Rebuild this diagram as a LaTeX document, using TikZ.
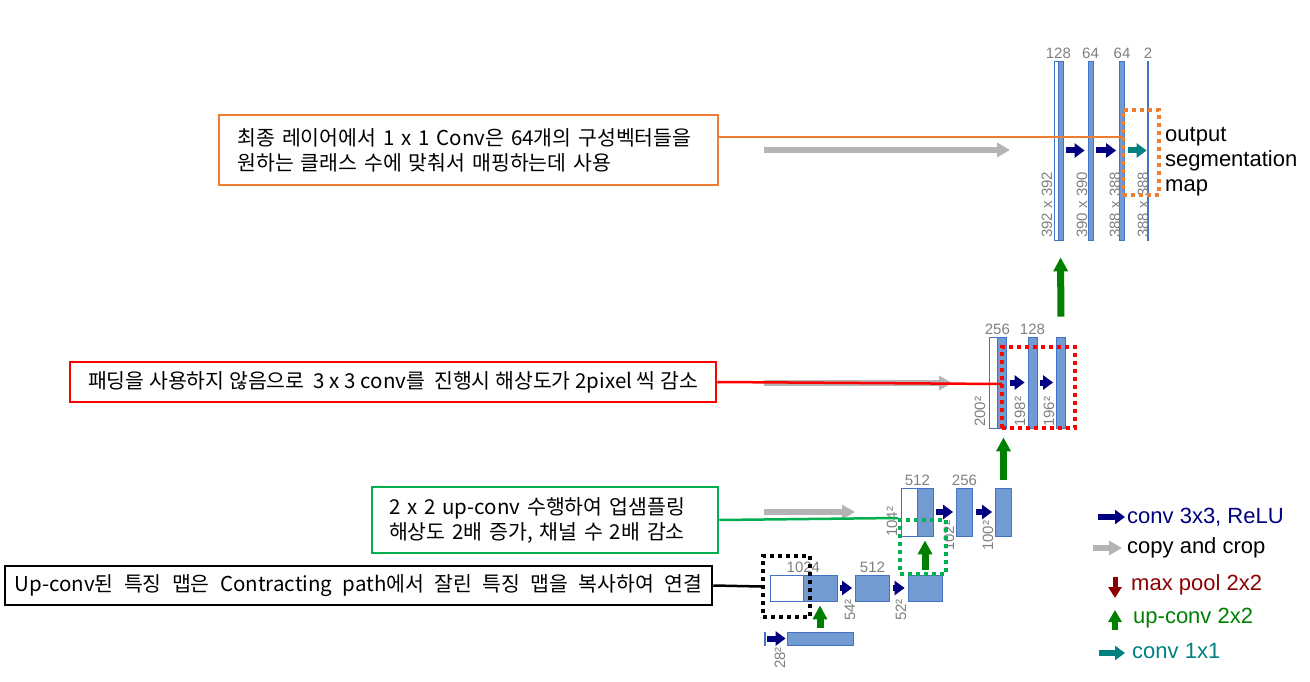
\documentclass[tikz,border=0pt]{standalone}
\usepackage{fontspec}
\setmainfont{Liberation Sans}
\newfontfamily\kr{Noto Sans CJK KR}
\usepackage{xcolor}
\usetikzlibrary{arrows.meta, positioning}

\definecolor{barblue}{RGB}{114,155,210}
\definecolor{baredge}{RGB}{68,114,196}
\definecolor{convnavy}{RGB}{0,0,128}
\definecolor{copygray}{RGB}{180,180,180}
\definecolor{pooldark}{RGB}{139,0,0}
\definecolor{upgreen}{RGB}{0,128,0}
\definecolor{oneteal}{RGB}{0,128,128}
\definecolor{noteorange}{RGB}{237,125,49}
\definecolor{notegreen}{RGB}{0,176,80}
\definecolor{labelgray}{RGB}{128,128,128}

\begin{document}
\begin{tikzpicture}[x = 1pt, y = -1pt,
		fmap/.style = {draw = baredge, fill = barblue, line width = 0.8pt, inner sep = 0pt},
		cmap/.style = {draw = baredge, fill = white, line width = 0.8pt, inner sep = 0pt},
		chan/.style = {text = labelgray, font = \fontsize{15}{15}\selectfont, inner sep = 1pt},
		size/.style = {chan, rotate = 90, anchor = west},
		conv/.style = {-{Triangle[length = 10pt, width = 14pt]}, line width = 6pt, convnavy, shorten < = 3pt, shorten > = 3pt},
		onebyone/.style = {conv, oneteal},
		copy/.style = {-{Triangle[length = 13pt, width = 14pt]}, line width = 6pt, copygray},
		upconv/.style = {-{Triangle[length = 14pt, width = 14pt]}, line width = 7pt, upgreen},
		pool/.style = {-{Triangle[length = 11pt, width = 13pt]}, line width = 5pt, pooldark},
		dotbox/.style = {line width = 4pt, dash pattern = on 4pt off 4pt, inner sep = 0pt},
		note/.style = {draw, line width = 2.5pt, inner sep = 0pt, font = \kr\fontsize{20.5}{25}\selectfont},
		key/.style = {anchor = west, inner sep = 0pt, font = \fontsize{22}{25}\selectfont}]

	\useasboundingbox (0,0) rectangle (1310,682);

	\begin{scope}
		\node [cmap, minimum width = 4pt, minimum height = 179pt] (u0) at (1056,150.5) {};
		\foreach \name/\x in {u1/1060.5, u2/1090.5, u3/1122}
		{
			\node [fmap, minimum width = 5pt, minimum height = 179pt] (\name) at (\x,150.5) {};
		}
		\node [fmap, minimum width = 1pt, minimum height = 179pt] (u4) at (1148,150.5) {};

		\node [cmap, minimum width = 8pt, minimum height = 91pt] (m0) at (993,382.5) {};
		\foreach \name/\x in {m1/1002, m2/1032.5, m3/1061}
		{
			\node [fmap, minimum width = 9pt, minimum height = 91pt] (\name) at (\x,382.5) {};
		}

		\node [cmap, minimum width = 16pt, minimum height = 48pt] (l0) at (909,512) {};
		\foreach \name/\x in {l1/925, l2/964.5, l3/1003.5}
		{
			\node [fmap, minimum width = 16pt, minimum height = 48pt] (\name) at (\x,512) {};
		}

		\node [cmap, minimum width = 33pt, minimum height = 26pt] (b0) at (786.5,588) {};
		\foreach \name/\x in {b1/820, b2/872.5, b3/925}
		{
			\node [fmap, minimum width = 34pt, minimum height = 26pt] (\name) at (\x,588) {};
		}

		\node [fmap, minimum width = 1pt, minimum height = 13pt] (d0) at (765,638.5) {};
		\node [fmap, minimum width = 66pt, minimum height = 13pt] (d1) at (820,638.5) {};
	\end{scope}

	\begin{scope}
		\node [chan, above = 1pt of u0.north east] (cu1) {128};
		\node [chan, above = 1pt of u2.north] (cu2) {64};
		\node [chan, above = 1pt of u3.north] (cu3) {64};
		\node [chan, above = 1pt of u4.north] (cu4) {2};
		\node [chan, above = 1pt of m0.north east] (cm1) {256};
		\node [chan, above = 1pt of m2.north] (cm2) {128};
		\node [chan, above = 1pt of l0.north east] (cl1) {512};
		\node [chan, above = 1pt of l2.north] (cl2) {256};
		\node [chan, above = 1pt of b0.north east] (cb1) {1024};
		\node [chan, above = 1pt of b2.north] (cb2) {512};

		\foreach \id/\x/\y/\t in {su0/1047/239/392 x 392, su2/1082/239/390 x 390, su3/1115/239/388 x 388, su4/1143/239/388 x 388,
			sm0/980/428/200², sm2/1020/428/198², sm3/1049/428/196²,
			sl0/892/538/104², sl2/949/552/102², sl3/988/552/100²,
			sb2/850/622/54², sb3/901/622/52², sd0/780/670/28²}
		{
			\node [size] (\id) at (\x,\y) {\t};
		}
	\end{scope}

	\begin{scope}
		\draw [conv] (u1.east) -- (u2.west);
		\draw [conv] (u2.east) -- (u3.west);
		\draw [onebyone, shorten < = 3.5pt, shorten > = 0.5pt] (u3.east) -- (u4.west);
		\draw [conv] (m1.east) -- (m2.west);
		\draw [conv] (m2.east) -- (m3.west);
		\draw [conv] (l1.east) -- (l2.west);
		\draw [conv] (l2.east) -- (l3.west);
		\draw [conv] (b1.east) -- (b2.west);
		\draw [conv] (b2.east) -- (b3.west);
		\draw [conv, shorten < = 1.5pt, shorten > = 1pt] (d0.east) -- (d1.west);

		\draw [upconv, shorten < = 4pt, shorten > = 4pt] (d1.north) -- (b1.south);
		\draw [upconv, shorten < = 5pt, shorten > = 4pt] (b3.north) -- (l1.south);
		\draw [upconv, shorten < = 8pt, shorten > = 9pt] (l3.north) -- (l3.north |- m1.south);
		\draw [upconv, shorten < = 20pt, shorten > = 17pt] (m3.north) -- (u1.south);
	\end{scope}

	\coordinate (cp1a) at (764,150);
	\coordinate (cp1b) at (1010,150);
	\coordinate (cp2a) at (764,383);
	\coordinate (cp2b) at (952,383);
	\coordinate (cp3a) at (764,512);
	\coordinate (cp3b) at (855,512);

	\begin{scope}
		\draw [copy] (cp1a) -- (cp1b);
		\draw [copy] (cp2a) -- (cp2b);
		\draw [copy] (cp3a) -- (cp3b);
	\end{scope}

	\begin{scope}
		\node [note, draw = noteorange, minimum width = 499pt, minimum height = 70pt, text width = 462pt, align = left] (n1) at (468.5,150)
			{최종 레이어에서 1 x 1 Conv은 64개의 구성벡터들을\\원하는 클래스 수에 맞춰서 매핑하는데 사용};
		\node [note, draw = red, minimum width = 646pt, minimum height = 40pt] (n2) at (393,382)
			{패딩을 사용하지 않음으로 \ 3 x 3 conv를 \ 진행시 해상도가 2pixel 씩 감소};
		\node [note, draw = notegreen, minimum width = 346pt, minimum height = 66pt, text width = 312pt, align = left] (n3) at (545,520)
			{2 x 2 up-conv 수행하여 업샘플링\\해상도 2배 증가, 채널 수 2배 감소};
		\node [note, draw = black, minimum width = 707pt, minimum height = 39pt] (n4) at (358.5,585.5)
			{\makebox[688pt][s]{Up-conv된 특징 맵은 Contracting path에서 잘린 특징 맵을 복사하여 연결}};
	\end{scope}

	\begin{scope}
		\node [dotbox, draw = noteorange, minimum width = 36pt, minimum height = 85pt] (obox) at (1141,152.5) {};
		\node [dotbox, draw = red, minimum width = 73pt, minimum height = 81pt] (rbox) at (1038.5,387.5) {};
		\node [dotbox, draw = notegreen, minimum width = 46pt, minimum height = 54pt] (gbox) at (923,547) {};
		\node [dotbox, draw = black, minimum width = 47pt, minimum height = 61pt] (kbox) at (786.5,586.5) {};
	\end{scope}

	\coordinate (otap) at (1123,137);
	\coordinate (rtap) at (1002,384);

	\begin{scope}
		\draw [noteorange, line width = 2.5pt] (n1.east |- otap) -- (otap);
		\draw [red, line width = 2.5pt] (n2.east) -- (rtap);
		\draw [notegreen, line width = 2.5pt] (n3.east) -- (gbox.north west);
		\draw [black, line width = 2.5pt] (n4.east) -- (kbox.west);
	\end{scope}

	\node [key, align = left] (outl) at (1165,162) {output\\segmentation\\map};

	\begin{scope}
		\node [key, text = convnavy] (k1) at (1127,517) {conv 3x3, ReLU};
		\node [key] (k2) at (1127,548) {copy and crop};
		\node [key, text = pooldark] (k3) at (1131,585) {max pool 2x2};
		\node [key, text = upgreen] (k4) at (1133,618) {up-conv 2x2};
		\node [key, text = oneteal] (k5) at (1132,651) {conv 1x1};

		\coordinate (k1a) at (1098,517);
		\coordinate (k2a) at (1093,548);
		\coordinate (k3a) at (1115,577);
		\coordinate (k3b) at (1115,598);
		\coordinate (k4a) at (1115,630);
		\coordinate (k4b) at (1115,610);
		\coordinate (k5a) at (1099,653);

		\draw [conv, shorten < = 0pt, shorten > = 2pt] (k1a) -- (k1.west);
		\draw [copy, shorten > = 5pt] (k2a) -- (k2.west);
		\draw [pool] (k3a) -- (k3b);
		\draw [upconv, line width = 6pt, -{Triangle[length = 12pt, width = 13pt]}] (k4a) -- (k4b);
		\draw [onebyone, shorten < = 0pt, shorten > = 7pt] (k5a) -- (k5.west |- k5a);
	\end{scope}
\end{tikzpicture}
\end{document}
